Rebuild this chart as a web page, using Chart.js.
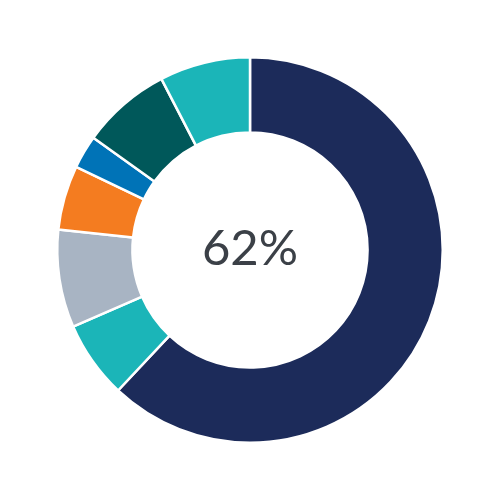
<!DOCTYPE html>
<html>
<head>
<meta charset="utf-8">
<script src="https://cdn.jsdelivr.net/npm/chart.js@4.4.0/dist/chart.umd.min.js"></script>
<style>
  html, body { margin: 0; padding: 0; background: #fff; }
  #wrap { position: relative; width: 500px; height: 500px; }
  #center {
    position: absolute; left: 0; top: -4px; width: 500px; height: 500px;
    display: flex; align-items: center; justify-content: center;
    font-family: Lato, "Open Sans", sans-serif; font-weight: 400;
    font-size: 49px; color: #3b4047; pointer-events: none;
  }
</style>
</head>
<body>
<div id="wrap">
  <canvas id="chart" width="500" height="500"></canvas>
  <div id="center">62%</div>
</div>
<script>
// slices, clockwise from 12 o'clock
const labels = ["A", "B", "C", "D", "E", "F", "G"];
const values = [62, 6.5, 8.2, 5.4, 2.8, 7.5, 7.6];
const colors = ["#1c2b5a", "#1bb5b8", "#a8b4c3", "#f47c20", "#0073b7", "#00585a", "#1bb5b8"];

new Chart(document.getElementById("chart"), {
  type: "doughnut",
  data: {
    labels: labels,
    datasets: [
      {
        data: values,
        backgroundColor: colors,
        borderColor: "#ffffff",
        borderWidth: 2.5,
      },
    ],
  },
  options: {
    responsive: false,
    animation: false,
    cutout: "61%",
    layout: { padding: 56 },
    plugins: {
      legend: { display: false },
      tooltip: { enabled: false },
    },
  },
});
</script>
</body>
</html>
